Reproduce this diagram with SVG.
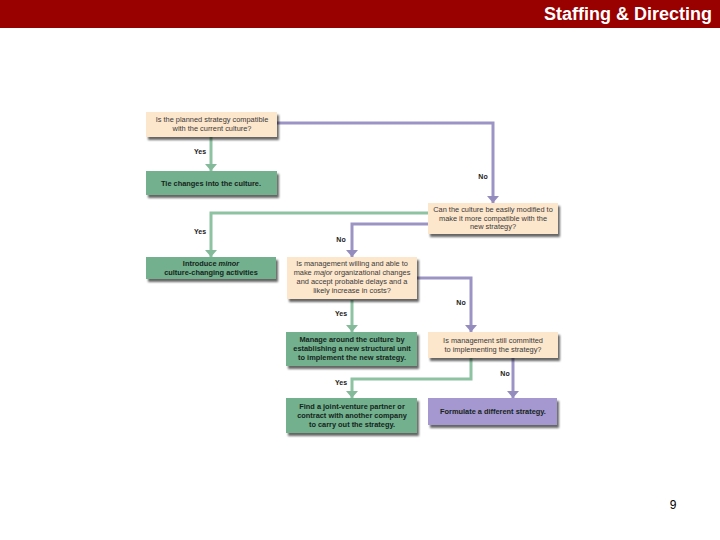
<svg xmlns="http://www.w3.org/2000/svg" width="720" height="540" viewBox="0 0 720 540">
<defs>
<filter id="sh" x="-10%" y="-20%" width="125%" height="160%">
<feGaussianBlur in="SourceAlpha" stdDeviation="1.2"/>
<feOffset dx="2" dy="3" result="b"/>
<feComponentTransfer><feFuncA type="linear" slope="0.6"/></feComponentTransfer>
<feMerge><feMergeNode/><feMergeNode in="SourceGraphic"/></feMerge>
</filter>
<marker id="ag" viewBox="0 0 10 10" refX="10" refY="5" markerWidth="7" markerHeight="12" markerUnits="userSpaceOnUse" orient="auto" preserveAspectRatio="none"><path d="M0,0 L10,5 L0,10 Z" fill="#84BA9A"/></marker>
<marker id="ap" viewBox="0 0 10 10" refX="10" refY="5" markerWidth="7" markerHeight="12" markerUnits="userSpaceOnUse" orient="auto" preserveAspectRatio="none"><path d="M0,0 L10,5 L0,10 Z" fill="#958CBE"/></marker>
</defs>
<style>
.cream{fill:#FCE6CC;filter:url(#sh)}
.green{fill:#72B08E;filter:url(#sh)}
.purple{fill:#A597CF;filter:url(#sh)}
.t{font-family:"Liberation Sans",Arial,sans-serif;font-size:7.4px;text-anchor:middle;fill:#3a3a3a}
.tb{font-family:"Liberation Sans",Arial,sans-serif;font-size:7.4px;text-anchor:middle;fill:#15251c;font-weight:bold}
.lbl{font-family:"Liberation Sans",Arial,sans-serif;font-size:7px;text-anchor:middle;fill:#222;font-weight:bold}
.lg{fill:none;stroke:#8DC2A2;stroke-width:3}
.lp{fill:none;stroke:#9C94C4;stroke-width:3}
</style>
<rect width="720" height="540" fill="#ffffff"/>
<g id="header">
<rect x="0" y="0" width="720" height="28" fill="#990000"/>
<text x="712" y="20" font-family="Liberation Sans,Arial,sans-serif" font-size="18" font-weight="bold" fill="#ffffff" text-anchor="end">Staffing &amp; Directing</text>
</g>
<g id="connectors">
<path class="lg" d="M211,137 V171" marker-end="url(#ag)"/>
<path class="lp" d="M277,123 H493 V203" marker-end="url(#ap)"/>
<path class="lg" d="M428,213 H211 V257" marker-end="url(#ag)"/>
<path class="lp" d="M428,224 H352 V257" marker-end="url(#ap)"/>
<path class="lp" d="M417,278 H471 V332" marker-end="url(#ap)"/>
<path class="lg" d="M352,300 V332" marker-end="url(#ag)"/>
<path class="lg" d="M471,358 V379 H352 V398" marker-end="url(#ag)"/>
<path class="lp" d="M513,358 V398" marker-end="url(#ap)"/>
<text class="lbl" x="200" y="154">Yes</text>
<text class="lbl" x="483" y="179">No</text>
<text class="lbl" x="200" y="234">Yes</text>
<text class="lbl" x="341" y="242">No</text>
<text class="lbl" x="461" y="305">No</text>
<text class="lbl" x="341" y="316">Yes</text>
<text class="lbl" x="341" y="385">Yes</text>
<text class="lbl" x="505" y="376">No</text>
</g>
<g id="n1">
<rect class="cream" x="146" y="112" width="131" height="25"/>
<text class="t" x="212" y="122">Is the planned strategy compatible</text>
<text class="t" x="212" y="131">with the current culture?</text>
</g>
<g id="n2">
<rect class="green" x="146" y="171" width="131" height="24"/>
<text class="tb" x="211" y="185.5">Tie changes into the culture.</text>
</g>
<g id="n3">
<rect class="cream" x="428" y="203" width="130" height="31"/>
<text class="t" x="493" y="212">Can the culture be easily modified to</text>
<text class="t" x="493" y="220.5">make it more compatible with the</text>
<text class="t" x="493" y="229">new strategy?</text>
</g>
<g id="n4">
<rect class="green" x="146" y="257" width="130" height="22"/>
<text class="tb" x="211" y="266">Introduce <tspan font-style="italic">minor</tspan></text>
<text class="tb" x="211" y="275">culture-changing activities</text>
</g>
<g id="n5">
<rect class="cream" x="287" y="257" width="130" height="42"/>
<text class="t" x="352" y="266">Is management willing and able to</text>
<text class="t" x="352" y="275">make <tspan font-style="italic">major</tspan> organizational changes</text>
<text class="t" x="352" y="284">and accept probable delays and a</text>
<text class="t" x="352" y="293">likely increase in costs?</text>
</g>
<g id="n6">
<rect class="cream" x="428" y="332" width="130" height="26"/>
<text class="t" x="493" y="343">Is management still committed</text>
<text class="t" x="493" y="352">to implementing the strategy?</text>
</g>
<g id="n7">
<rect class="green" x="286" y="332" width="131" height="34"/>
<text class="tb" x="352" y="342">Manage around the culture by</text>
<text class="tb" x="352" y="351">establishing a new structural unit</text>
<text class="tb" x="352" y="360">to implement the new strategy.</text>
</g>
<g id="n8">
<rect class="green" x="286" y="398" width="131" height="35"/>
<text class="tb" x="352" y="409">Find a joint-venture partner or</text>
<text class="tb" x="352" y="418">contract with another company</text>
<text class="tb" x="352" y="427">to carry out the strategy.</text>
</g>
<g id="n9">
<rect class="purple" x="428" y="398" width="129" height="27"/>
<text class="tb" x="493" y="414">Formulate a different strategy.</text>
</g>
<text x="673" y="509" font-family="Liberation Sans,Arial,sans-serif" font-size="12" fill="#000" text-anchor="middle">9</text>
</svg>
